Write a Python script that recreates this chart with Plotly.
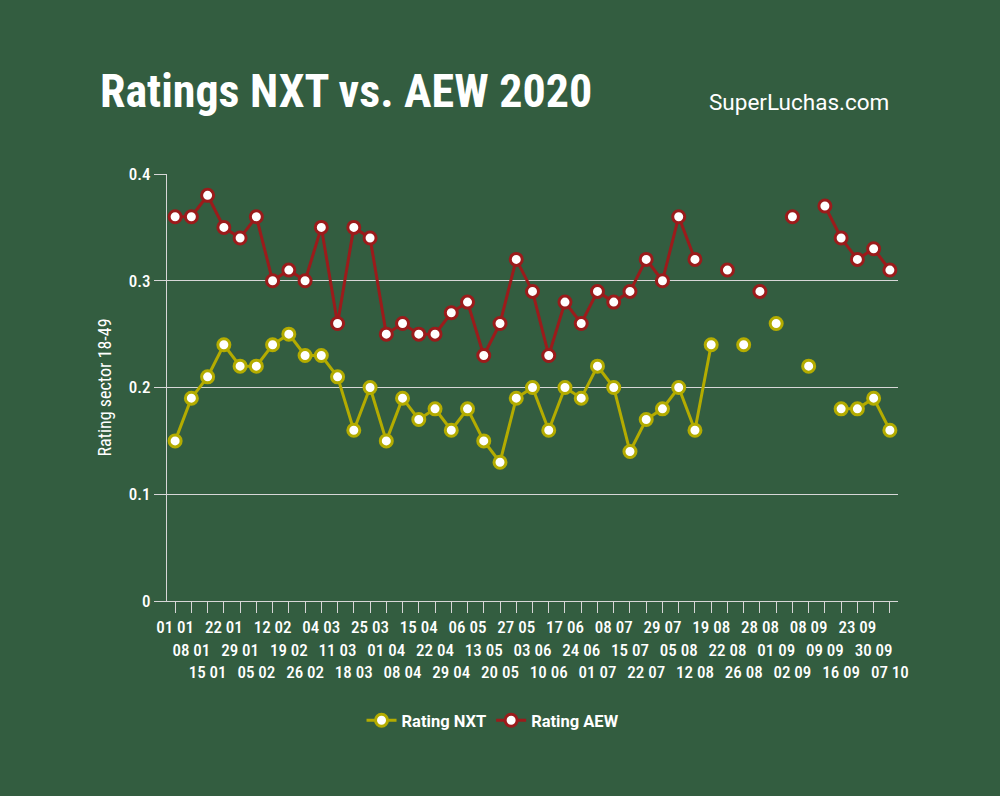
import plotly.graph_objects as go

dates = ["01 01", "08 01", "15 01", "22 01", "29 01", "05 02", "12 02", "19 02", "26 02",
         "04 03", "11 03", "18 03", "25 03", "01 04", "08 04", "15 04", "22 04", "29 04",
         "06 05", "13 05", "20 05", "27 05", "03 06", "10 06", "17 06", "24 06", "01 07",
         "08 07", "15 07", "22 07", "29 07", "05 08", "12 08", "19 08", "22 08", "26 08",
         "28 08", "01 09", "02 09", "08 09", "09 09", "16 09", "23 09", "30 09", "07 10"]

rating_nxt = [0.15, 0.19, 0.21, 0.24, 0.22, 0.22, 0.24, 0.25, 0.23, 0.23, 0.21, 0.16, 0.20,
              0.15, 0.19, 0.17, 0.18, 0.16, 0.18, 0.15, 0.13, 0.19, 0.20, 0.16, 0.20, 0.19,
              0.22, 0.20, 0.14, 0.17, 0.18, 0.20, 0.16, 0.24, None, 0.24, None, 0.26, None,
              0.22, None, 0.18, 0.18, 0.19, 0.16]

rating_aew = [0.36, 0.36, 0.38, 0.35, 0.34, 0.36, 0.30, 0.31, 0.30, 0.35, 0.26, 0.35, 0.34,
              0.25, 0.26, 0.25, 0.25, 0.27, 0.28, 0.23, 0.26, 0.32, 0.29, 0.23, 0.28, 0.26,
              0.29, 0.28, 0.29, 0.32, 0.30, 0.36, 0.32, None, 0.31, None, 0.29, None, 0.36,
              None, 0.37, 0.34, 0.32, 0.33, 0.31]

y_ticks = [0, 0.1, 0.2, 0.3, 0.4]
y_tick_text = ["0", "0.1", "0.2", "0.3", "0.4"]

BG = "rgb(51,93,64)"
NXT_COLOR = "rgb(180,172,0)"
AEW_COLOR = "rgb(155,27,27)"
GRID = "rgb(215,215,215)"
FONT = "Roboto Condensed, Liberation Sans Narrow, DejaVu Sans Condensed, Roboto, sans-serif"
FONT_WIDE = "Roboto, sans-serif"

# staggered tick labels in three rows
tick_text = [("<br>" * (i % 3)) + d for i, d in enumerate(dates)]

fig = go.Figure()
fig.add_trace(go.Scatter(
    x=dates, y=rating_nxt, name="Rating NXT", mode="lines+markers",
    line=dict(color=NXT_COLOR, width=3),
    marker=dict(size=12, color="white", line=dict(color=NXT_COLOR, width=3)),
    connectgaps=False,
))
fig.add_trace(go.Scatter(
    x=dates, y=rating_aew, name="Rating AEW", mode="lines+markers",
    line=dict(color=AEW_COLOR, width=3),
    marker=dict(size=12, color="white", line=dict(color=AEW_COLOR, width=3)),
    connectgaps=False,
))

fig.update_layout(
    width=1000, height=796,
    paper_bgcolor=BG, plot_bgcolor=BG,
    margin=dict(l=167, r=102, t=174, b=195),
    font=dict(family=FONT, color="white", size=16),
    title=dict(
        text="Ratings NXT vs. AEW 2020",
        font=dict(family=FONT, size=46, color="white", weight="bold"),
        x=0.1, xanchor="left", xref="container",
        y=1 - 91 / 796, yanchor="middle", yref="container",
    ),
    showlegend=True,
    legend=dict(
        orientation="h", x=0.446, xanchor="center", y=-0.28, yanchor="middle",
        font=dict(family=FONT_WIDE, size=16.5, color="white", weight="bold"),
        bgcolor="rgba(0,0,0,0)", itemwidth=30,
    ),
    annotations=[dict(
        text="SuperLuchas.com", xref="paper", yref="paper",
        x=(891 - 167) / 731, y=(601 - 102) / 427, xanchor="right", yanchor="middle",
        showarrow=False, font=dict(family=FONT_WIDE, size=22.5, color="white"),
    )],
)

fig.update_xaxes(
    type="category", range=[-0.5, len(dates) - 0.5],
    tickmode="array", tickvals=dates, ticktext=tick_text,
    ticks="outside", ticklen=11, tickcolor=GRID, tickwidth=1,
    showgrid=False, showline=True, linecolor=GRID, linewidth=1,
    tickfont=dict(family=FONT, size=17, color="white", weight=500),
    tickangle=0, zeroline=False,
)
fig.update_yaxes(
    range=[0, 0.4], tickmode="array", tickvals=y_ticks, ticktext=y_tick_text,
    ticks="outside", ticklen=12, tickcolor=GRID, tickwidth=1,
    showgrid=True, gridcolor=GRID, gridwidth=1,
    showline=True, linecolor=GRID, linewidth=1, zeroline=False,
    tickfont=dict(family=FONT, size=17, color="white", weight=500),
    title=dict(text="Rating sector 18-49", font=dict(family=FONT, size=18, color="white"),
               standoff=12),
)

fig.write_html("out.html")
